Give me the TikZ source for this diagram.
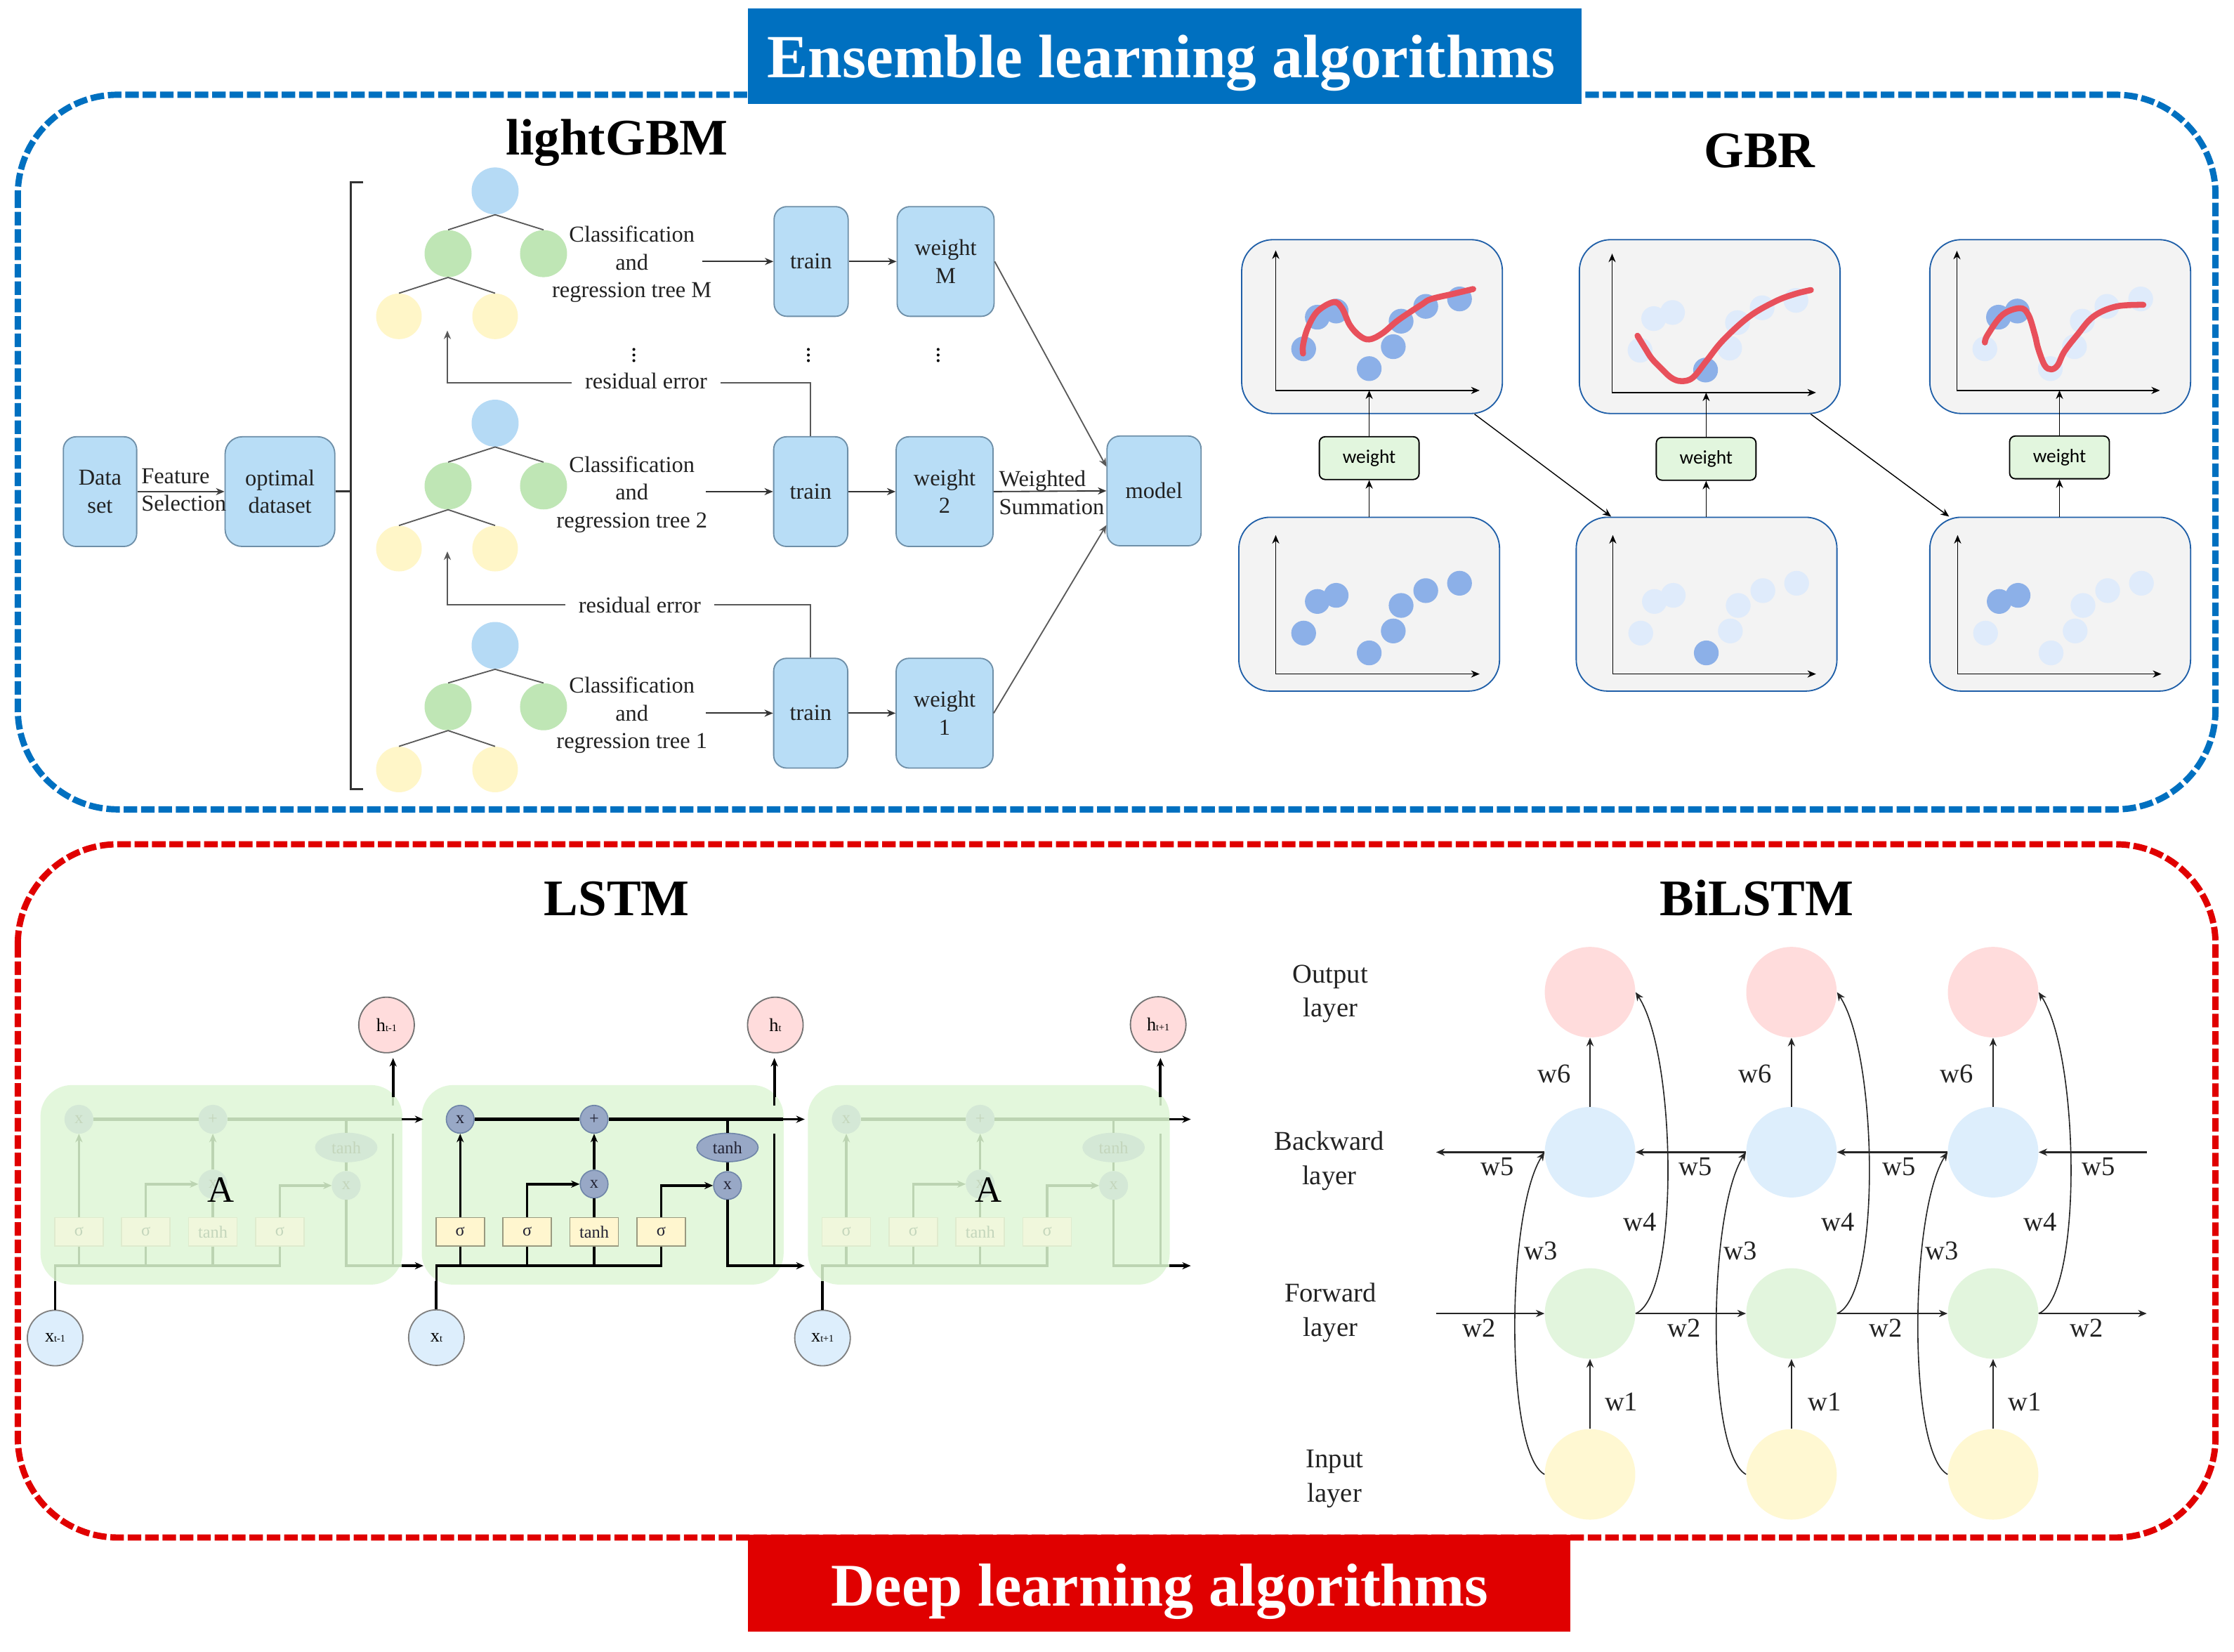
\documentclass[tikz,border=0pt]{standalone}
\usepackage{fontspec}
\setmainfont{Liberation Serif}
\newfontfamily\calib{Carlito}
\usetikzlibrary{arrows.meta,shapes.geometric,calc}
\definecolor{frameblue}{HTML}{0070C0}
\definecolor{framered}{HTML}{E00000}
\definecolor{boxblue}{HTML}{B8DDF6}
\definecolor{boxedge}{HTML}{6E8FA8}
\definecolor{inkgrey}{HTML}{222222}
\definecolor{treeblue}{HTML}{B5DAF5}
\definecolor{treegreen}{HTML}{BFE6B5}
\definecolor{treeyellow}{HTML}{FFF6C8}
\definecolor{panelfill}{HTML}{F3F3F3}
\definecolor{paneledge}{HTML}{1F5FA8}
\definecolor{ptdark}{HTML}{8CB0E8}
\definecolor{ptlight}{HTML}{DFEBFB}
\definecolor{curvered}{HTML}{E8505B}
\definecolor{weightgreen}{HTML}{E2F6DE}
\definecolor{cellgreen}{HTML}{E3F7DC}
\definecolor{fadeline}{HTML}{BCD4B2}
\definecolor{fadegate}{HTML}{D4E8D6}
\definecolor{fadebox}{HTML}{F0F7DC}
\definecolor{fadeboxedge}{HTML}{DFEBCE}
\definecolor{fadetext}{HTML}{C4D6BC}
\definecolor{gateblue}{HTML}{98A8C6}
\definecolor{gateedge}{HTML}{6F85A8}
\definecolor{gatetext}{HTML}{222233}
\definecolor{boxyellow}{HTML}{FFF6CF}
\definecolor{boxyedge}{HTML}{9A9A80}
\definecolor{biout}{HTML}{FFDCDC}
\definecolor{biback}{HTML}{DDEEFC}
\definecolor{bifor}{HTML}{E2F5DD}
\definecolor{biin}{HTML}{FFF8D2}
\tikzset{
 >={Stealth[length=6pt,width=5pt]},
 frameline/.style={line width=4.4pt,dash pattern=on 9.5pt off 2.7pt,rounded corners=70pt},
 titlebox/.style={inner sep=0pt,text=white,font=\bfseries\fontsize{#1}{#1}\selectfont},
 heading/.style={inner sep=0pt,font=\bfseries\fontsize{36}{36}\selectfont},
 bluebox/.style={draw=boxedge,fill=boxblue,line width=0.9pt,rounded corners=9pt,inner sep=0pt,align=center,text=inkgrey,font=\fontsize{16}{19.5}\selectfont},
 gbmtext/.style={inner sep=0pt,align=center,text=inkgrey,font=\fontsize{16}{19.5}\selectfont},
 gbmline/.style={draw=black!65,line width=0.9pt},
 bracketline/.style={draw=black!80,line width=1.5pt},
 treenode/.style={circle,minimum size=#1,inner sep=0pt},
 panel/.style={draw=paneledge,fill=panelfill,line width=0.9pt,rounded corners=22pt,minimum width=183pt,minimum height=122pt,inner sep=0pt},
 axisline/.style={draw=black,line width=0.8pt},
 redcurve/.style={draw=curvered,line width=4.2pt,line cap=round,line join=round},
 weightbox/.style={draw=black,fill=weightgreen,line width=0.9pt,rounded corners=4pt,minimum width=70pt,minimum height=30pt,inner sep=0pt,font=\calib\fontsize{13.5}{14}\selectfont},
 plainarrow/.style={draw=black,line width=0.7pt},
 dark line/.style={draw=black,line width=1.7pt},
 dark gate/.style={draw=gateedge,fill=gateblue,text=gatetext,line width=0.8pt},
 dark box/.style={draw=boxyedge,fill=boxyellow,text=gatetext,line width=0.8pt},
 fade line/.style={draw=fadeline,line width=1.7pt},
 fade gate/.style={draw=fadegate,fill=fadegate,text=fadetext,line width=0.8pt},
 fade box/.style={draw=fadeboxedge,fill=fadebox,text=fadetext,line width=0.8pt},
 cellbox/.style={fill=cellgreen,rounded corners=22pt,minimum width=254pt,minimum height=140pt,inner sep=0pt},
 gatecirc/.style={circle,minimum size=19.5pt,inner sep=0pt,font=\fontsize{12}{12}\selectfont},
 gatebox/.style={rectangle,minimum width=34pt,minimum height=20pt,inner sep=0pt,font=\fontsize{12}{12}\selectfont},
 gateell/.style={ellipse,minimum width=43pt,minimum height=20pt,inner sep=0pt,font=\fontsize{12}{12}\selectfont},
 black stroke/.style={draw=black,line width=1.9pt},
 hcirc/.style={circle,draw=black!55,fill=biout,line width=0.9pt,minimum size=39pt,inner sep=0pt,font=\fontsize{13}{13}\selectfont},
 xcirc/.style={circle,draw=black!50,fill=biback,line width=0.9pt,minimum size=39pt,inner sep=0pt,font=\fontsize{13}{13}\selectfont},
 bicirc/.style={circle,minimum size=63.5pt,inner sep=0pt},
 biline/.style={draw=black!85,line width=1pt},
 bilabel/.style={inner sep=0pt,text=inkgrey,align=center,font=\fontsize{19}{24}\selectfont},
}
\newcommand\subsz[1]{{\fontsize{7}{7}\selectfont #1}}
\newcommand\gdots[5]{%
 \foreach[count=\i] \dx/\dy in {19.6/-29.2,29.2/-51.4,42.4/-55.7,65.6/-15.3,82.5/-30.7,88/-48.6,105.3/-59,129/-64.2}{%
  \def\c{#3}\ifnum\i=#4 \def\c{ptdark}\fi\ifnum\i=#5 \def\c{ptdark}\fi
  \fill[\c] ({#1+\dx},{#2+\dy}) circle[radius=8.7pt];}}
\newcommand\gaxes[5]{%
 \coordinate (#1) at (#2,#3);
 \draw[axisline,<->] (#2,#4) -- (#1) -- (#5,#3);}
\newcommand\lstmcell[3]{%
 \begin{scope}[xshift=#1pt]
 \node[cellbox] (#2-cell) at (423,831.5) {};
 \node[gatecirc,#3 gate] (#2-gx) at (323,785.5) {x};
 \node[gatecirc,#3 gate] (#2-gp) at (417,785.5) {+};
 \node[gatecirc,#3 gate] (#2-xm) at (417,831) {x};
 \node[gatecirc,#3 gate] (#2-xr) at (510.6,832) {x};
 \node[gateell,#3 gate] (#2-te) at (510.6,805.3) {tanh};
 \node[gatebox,#3 box] (#2-s1) at (323,864.5) {σ};
 \node[gatebox,#3 box] (#2-s2) at (370,864.5) {σ};
 \node[gatebox,#3 box] (#2-tb) at (417,864.5) {tanh};
 \node[gatebox,#3 box] (#2-s3) at (464,864.5) {σ};
 \coordinate (#2-stub) at (306.3,899);
 \coordinate (#2-inb) at (306.3,888.3);
 \coordinate (#2-topend) at (549.5,785.5);
 \coordinate (#2-toptip) at (564.8,785.5);
 \coordinate (#2-botend) at (549.5,888.3);
 \coordinate (#2-bottip) at (564.8,888.3);
 \coordinate (#2-vb) at (543.5,888.3);
 \coordinate (#2-vt) at (543.5,795.7);
 \coordinate (#2-sb) at (543.5,776);
 \coordinate (#2-up) at (543.5,770);
 \coordinate (#2-uptip) at (543.5,742.5);
 \draw[#3 line] (#2-stub) -- (#2-inb) -- (#2-inb -| #2-s3) -- (#2-s3.south);
 \draw[#3 line] (#2-s1.south) -- (#2-s1.south |- #2-inb);
 \draw[#3 line] (#2-s2.south) -- (#2-s2.south |- #2-inb);
 \draw[#3 line] (#2-tb.south) -- (#2-tb.south |- #2-inb);
 \draw[#3 line,->] (#2-s1.north) -- (#2-gx.south);
 \draw[#3 line] (#2-tb.north) -- (#2-xm.south);
 \draw[#3 line,->] (#2-xm.north) -- (#2-gp.south);
 \draw[#3 line,->] (#2-s2.north) |- (#2-xm.west);
 \draw[#3 line,->] (#2-s3.north) |- (#2-xr.west);
 \draw[#3 line,line width=2.2pt] (#2-gx.east) -- (#2-gp.west);
 \draw[#3 line,line width=2.2pt] (#2-gp.east) -- (#2-topend);
 \draw[#3 line] (#2-te.north) -- (#2-te.north |- #2-gp);
 \draw[#3 line] (#2-te.south) -- (#2-xr.north);
 \draw[#3 line] (#2-xr.south) |- (#2-botend);
 \draw[#3 line] (#2-vb) -- (#2-vt);
 \draw[#3 line] (#2-sb) -- (#2-up);
 \end{scope}}
\begin{document}
\begin{tikzpicture}[x=1pt,y=-1pt]
\useasboundingbox (0,0) rectangle (1568,1159);
\fill[white] (0,0) rectangle (1568,1159);
% frames
\draw[frameline,draw=frameblue] (12.5,66.5) rectangle (1555,568);
\draw[frameline,draw=framered] (12.5,592.5) rectangle (1555,1079);
\node[fill=frameblue,minimum width=585pt,minimum height=67pt,inner sep=0pt] (titleA) at (817.5,39.5) {};
\node[titlebox=43.1] (titleAt) at (815,44.5) {Ensemble learning algorithms};
\node[fill=framered,minimum width=577pt,minimum height=68pt,inner sep=0pt] (titleB) at (813.5,1111) {};
\node[titlebox=42.6] (titleBt) at (814,1117) {Deep learning algorithms};
\node[heading] (hLight) at (433,100) {lightGBM};
\node[heading] (hGbr) at (1235,106) {GBR};
\node[heading] (hLstm) at (433,631) {LSTM};
\node[heading] (hBi) at (1233,630) {BiLSTM};
% lightGBM left
\node[bluebox,minimum width=51.5pt,minimum height=77pt] (data) at (70.2,345) {Data\\set};
\node[bluebox,minimum width=77pt,minimum height=77pt,rounded corners=12pt] (opt) at (196.5,345) {optimal\\dataset};
\draw[gbmline,draw=black!75,->] (data.east) -- (opt.west);
\node[gbmtext,anchor=west] (featA) at (99,334) {Feature};
\node[gbmtext,anchor=west] (featB) at (99,353) {Selection};
\coordinate (brT) at (255,128);
\coordinate (brTc) at (246,128);
\coordinate (brB) at (255,554);
\coordinate (brBc) at (246,554);
\draw[bracketline] (brT) -- (brTc) -- (brBc) -- (brB);
\draw[bracketline] (opt.east) -- (opt.east -| brTc);
% trees
\foreach \t/\ya/\yb/\yc/\ty in {m/134/178/222/184, b/297/341/385/345, a/453/496/540/500}{
 \node[treenode=33pt,fill=treeblue] (\t r) at (347.5,\ya) {};
 \node[treenode=33pt,fill=treegreen] (\t gl) at (314.5,\yb) {};
 \node[treenode=33pt,fill=treegreen] (\t gr) at (381.5,\yb) {};
 \node[treenode=32pt,fill=treeyellow] (\t yl) at (280,\yc) {};
 \node[treenode=32pt,fill=treeyellow] (\t yr) at (347.5,\yc) {};
 \draw[gbmline] (\t gl.north) -- (\t r.south) -- (\t gr.north);
 \draw[gbmline] (\t yl.north) -- (\t gl.south) -- (\t yr.north);
}
\node[gbmtext] (cartm) at (443.5,185.5) {Classification\\and\\regression tree M};
\node[gbmtext] (cartb) at (443.5,347) {Classification\\and\\regression tree 2\hspace{7pt}};
\node[gbmtext] (carta) at (443.5,502) {Classification\\and\\regression tree 1\hspace{7pt}};
\node[bluebox,minimum width=52pt,minimum height=77pt] (trm) at (569.3,183.5) {train};
\node[bluebox,minimum width=52pt,minimum height=77pt] (trb) at (569,345) {train};
\node[bluebox,minimum width=52pt,minimum height=77pt] (tra) at (569,500.5) {train};
\node[bluebox,minimum width=68pt,minimum height=77pt] (wm) at (663.7,183.5) {weight\\M};
\node[bluebox,minimum width=68pt,minimum height=77pt] (wb) at (663,345) {weight\\2};
\node[bluebox,minimum width=68pt,minimum height=77pt] (wa) at (663,500.5) {weight\\1};
\node[bluebox,minimum width=66pt,minimum height=77pt] (model) at (810,344.5) {model};
\draw[gbmline,draw=black!80,->] (cartm.east |- trm.west) ++(-7,0) -- (trm.west);
\draw[gbmline,draw=black!80,->] (cartb.east |- trb.west) ++(-1,0) -- (trb.west);
\draw[gbmline,draw=black!80,->] (carta.east |- tra.west) ++(-1,0) -- (tra.west);
\draw[gbmline,draw=black!80,->] (trm.east) -- (wm.west);
\draw[gbmline,draw=black!80,->] (trb.east) -- (wb.west);
\draw[gbmline,draw=black!80,->] (tra.east) -- (wa.west);
\draw[gbmline,->] (wm.east) -- ([yshift=17pt]model.west);
\draw[gbmline,draw=black!80,->] (wb.east) -- (model.west);
\draw[gbmline,->] (wa.east) -- ([yshift=-24pt]model.west);
\node[gbmtext,anchor=west] (wsA) at (701,337.5) {Weighted};
\node[gbmtext,anchor=west] (wsB) at (701,356) {Summation};
\node[gbmtext] (resA) at (453.5,267.5) {residual error};
\node[gbmtext] (resB) at (449,424.5) {residual error};
\coordinate (resAtip) at (314,232);
\coordinate (resBtip) at (314,387);
\draw[gbmline] (trb.north) |- ([xshift=9pt,yshift=-1pt]resA.east);
\draw[gbmline,->] ([xshift=-9pt,yshift=-1pt]resA.west) -| (resAtip);
\draw[gbmline] (tra.north) |- ([xshift=9pt]resB.east);
\draw[gbmline,->] ([xshift=-9pt]resB.west) -| (resBtip);
\node[inner sep=0pt,font=\fontsize{17}{17}\selectfont] (dotsA) at (445,246.5) {$\vdots$};
\node[inner sep=0pt,font=\fontsize{17}{17}\selectfont] (dotsB) at (567.5,246.5) {$\vdots$};
\node[inner sep=0pt,font=\fontsize{17}{17}\selectfont] (dotsC) at (658.5,246.5) {$\vdots$};
% GBR
\node[panel] (p1) at (963,229.2) {};
\node[panel] (p2) at (1200,229.2) {};
\node[panel] (p3) at (1446,229.2) {};
\node[panel] (p4) at (961,424) {};
\node[panel] (p5) at (1197.8,424) {};
\node[panel] (p6) at (1446,424) {};
\gdots{895.4}{473.5}{ptdark}{0}{0}
\gdots{1132}{473.5}{ptlight}{4}{0}
\gdots{1374}{473.5}{ptlight}{2}{3}
\gdots{895.4}{274}{ptdark}{0}{0}
\gdots{1131.5}{275}{ptlight}{4}{0}
\gdots{1373.5}{274}{ptlight}{2}{3}
\gaxes{o1}{895.4}{274}{175.7}{1038.5}
\gaxes{o2}{1131.5}{275.5}{178}{1274.6}
\gaxes{o3}{1373.5}{274}{176}{1516}
\gaxes{o4}{895.4}{473}{375.5}{1038.5}
\gaxes{o5}{1132}{473}{375.5}{1274.6}
\gaxes{o6}{1374}{473}{375.5}{1517}
\begin{scope}[xshift=838pt,yshift=-147.9pt,x=0.4558pt,y=-0.2358pt]
\draw[redcurve] plot[smooth,tension=0.6] coordinates {(168,425)(168,400)(175,350)(190,300)(215,272)(228,290)(240,340)(255,372)(270,383)(290,365)(315,325)(350,280)(365,263)(400,247)(430,233)};
\draw[redcurve] plot[smooth,tension=0.6] coordinates {(683,372)(695,410)(705,440)(720,470)(735,497)(750,507)(768,497)(790,445)(815,385)(855,315)(895,270)(925,248)(950,236)};
\draw[redcurve] plot[smooth,tension=0.6] coordinates {(1218,392)(1222,370)(1245,310)(1272,290)(1285,310)(1295,370)(1300,410)(1310,460)(1320,472)(1330,460)(1340,420)(1360,370)(1385,315)(1420,285)(1462,280)};
\end{scope}
\node[weightbox] (w1) at (961,321.5) {weight};
\node[weightbox] (w2) at (1197.5,322) {weight};
\node[weightbox] (w3) at (1445.5,321) {weight};
\draw[plainarrow,->] (w1.south |- p4.north) -- (w1.south);
\draw[plainarrow,->] (w2.south |- p5.north) -- (w2.south);
\draw[plainarrow,->] (w3.south |- p6.north) -- (w3.south);
\draw[plainarrow,->] (w1.north) -- (w1.north |- o1);
\draw[plainarrow,->] (w2.north) -- (w2.north |- o2);
\draw[plainarrow,->] (w3.north) -- (w3.north |- o3);
\draw[plainarrow,->] ([xshift=-20pt]p1.south east) -- ([xshift=25pt]p5.north west);
\draw[plainarrow,->] ([xshift=-21pt]p2.south east) -- ([xshift=14pt]p6.north west);
% LSTM
\lstmcell{-267.6}{a}{fade}
\lstmcell{0}{b}{dark}
\lstmcell{271}{c}{fade}
\node[inner sep=0pt,font=\fontsize{26}{26}\selectfont] (lA) at (154.8,834.9) {A};
\node[inner sep=0pt,font=\fontsize{26}{26}\selectfont] (lC) at (693.8,834.9) {A};
\node[hcirc] (ha) at (271.3,719.3) {h\subsz{t-1}};
\node[hcirc] (hb) at (544.2,719.3) {h\subsz{t}};
\node[hcirc] (hc) at (812.9,719) {h\subsz{t+1}};
\node[xcirc] (xa) at (38.7,939) {x\subsz{t-1}};
\node[xcirc] (xb) at (306.3,938.7) {x\subsz{t}};
\node[xcirc] (xc) at (577.3,939) {x\subsz{t+1}};
\foreach \c in {a,b,c}{
 \draw[black stroke,->] (\c-topend) -- (\c-toptip);
 \draw[black stroke,->] (\c-botend) -- (\c-bottip);
 \draw[black stroke,->] (\c-up) -- (\c-uptip);
 \draw[black stroke] (x\c.north) -- (x\c.north |- \c-stub);
}
% BiLSTM
\foreach \n/\x in {1/1116,2/1257.4,3/1398.9}{
 \node[bicirc,fill=biout] (o\n b) at (\x,696.3) {};
 \node[bicirc,fill=biback] (b\n b) at (\x,808.6) {};
 \node[bicirc,fill=bifor] (f\n b) at (\x,921.8) {};
 \node[bicirc,fill=biin] (i\n b) at (\x,1034.7) {};
 \draw[biline,line width=1.4pt,->] (b\n b.north) -- (o\n b.south);
 \draw[biline,->] (i\n b.north) -- (f\n b.south);
 \draw[biline,line width=0.8pt,->] (f\n b.east) .. controls +(31,-12) and +(29,44) .. (o\n b.east);
 \draw[biline,line width=0.8pt,->] (i\n b.west) .. controls +(-28,-15) and +(-27,42) .. (b\n b.west);
}
\coordinate (fin) at (1008,921.8);
\coordinate (fout) at (1506.7,921.8);
\coordinate (bin) at (1506.7,808.6);
\coordinate (bout) at (1008,808.6);
\draw[biline,->] (fin) -- (f1b.west);
\draw[biline,->] (f1b.east) -- (f2b.west);
\draw[biline,->] (f2b.east) -- (f3b.west);
\draw[biline,->] (f3b.east) -- (fout);
\draw[biline,line width=1.3pt,->] (bin) -- (b3b.east);
\draw[biline,line width=1.3pt,->] (b3b.west) -- (b2b.east);
\draw[biline,line width=1.3pt,->] (b2b.west) -- (b1b.east);
\draw[biline,line width=1.3pt,->] (b1b.west) -- (bout);
\foreach \x [count=\i] in {1090.7,1231.7,1373.5}{\node[bilabel] (lwsix\i) at (\x,753.4) {w6};}
\foreach \x [count=\i] in {1051,1190,1333,1472.8}{\node[bilabel] (lwfive\i) at (\x,819) {w5};}
\foreach \x [count=\i] in {1151,1290,1432}{\node[bilabel] (lwfour\i) at (\x,857.8) {w4};}
\foreach \x [count=\i] in {1081.7,1221.5,1363}{\node[bilabel] (lwthree\i) at (\x,878) {w3};}
\foreach \x [count=\i] in {1038,1181.9,1323.7,1464.7}{\node[bilabel] (lwtwo\i) at (\x,932.3) {w2};}
\foreach \x [count=\i] in {1138,1280.8,1421}{\node[bilabel] (lwone\i) at (\x,983.8) {w1};}
\node[bilabel] (rowO) at (933.8,697.5) {Output\\layer};
\node[bilabel] (rowB) at (933,814.7) {Backward\\layer};
\node[bilabel] (rowF) at (933.8,921) {Forward\\layer};
\node[bilabel] (rowI) at (936.7,1037.7) {Input\\layer};
\end{tikzpicture}
\end{document}
